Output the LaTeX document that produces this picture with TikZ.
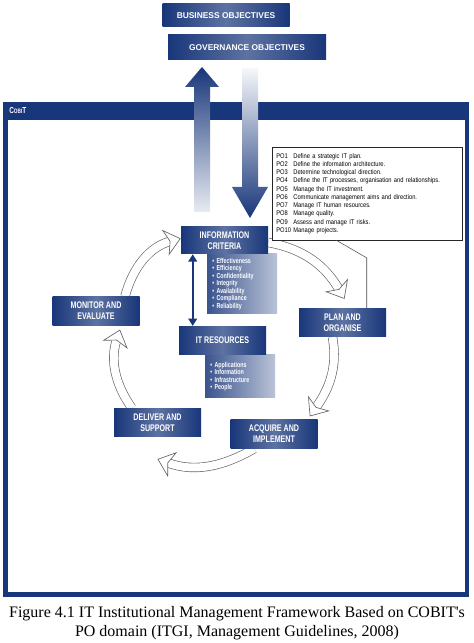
\documentclass[tikz,border=0pt]{standalone}
\usepackage{fontspec}
\setmainfont{Liberation Serif}
\newfontfamily\boxfont[FakeStretch=0.74]{Liberation Sans}
\newfontfamily\pofont[FakeStretch=0.85]{Liberation Sans}
\newfontfamily\topfont{Liberation Sans}
\usetikzlibrary{arrows.meta,calc,backgrounds}
\definecolor{cobblue}{RGB}{24,54,122}
\begin{document}
\begin{tikzpicture}[x=0.75pt,y=0.75pt,
  bluebox/.style={rectangle, inner sep=0pt, left color=cobblue, right color=cobblue, middle color=cobblue!70!white, text=white, align=center},
  cyclebox/.style={bluebox, minimum width=65.25pt, minimum height=21.5pt, font=\boxfont\bfseries\fontsize{7.2}{8.2}\selectfont},
  topbox/.style={bluebox, font=\topfont\bfseries\fontsize{6.3}{7}\selectfont},
  listbox/.style={rectangle, inner xsep=4pt, inner ysep=0pt, left color=cobblue!85!white, right color=cobblue!30!white, text=white, align=left, font=\boxfont\bfseries\fontsize{5.4}{5.6}\selectfont},
  cyc/.style={draw=black!60, line width=0.5pt, double=white, double distance=6pt, -{Stealth[fill=white, width=20pt, length=12pt, inset=3.5pt, line width=0.5pt]}},
  pobox/.style={draw=black!85, line width=0.6pt, fill=white, inner sep=3pt, align=left, font=\pofont\fontsize{5.1}{6.2}\selectfont},
]
\useasboundingbox (0,0) rectangle (474,643);

% top boxes
\node[topbox, minimum width=95.25pt, minimum height=17.25pt] (business) at (226,627.5) {BUSINESS OBJECTIVES};
\node[topbox, minimum width=118.5pt, minimum height=18.75pt] (governance) at (247,595.5) {GOVERNANCE OBJECTIVES};

% COBIT label
\node[anchor=west, text=white, inner sep=0pt, font=\boxfont\bfseries\fontsize{6.5}{7}\selectfont] (cobitlbl) at (9,532) {C{\fontsize{4.8}{5}\selectfont OBI}T};

% PO box
\node[pobox, minimum width=142.5pt, minimum height=69.75pt, text width=136pt] (po) at (367,449.5) {%
\makebox[12.75pt][l]{PO1}Define a strategic IT plan.\\
\makebox[12.75pt][l]{PO2}Define the information architecture.\\
\makebox[12.75pt][l]{PO3}Determine technological direction.\\
\makebox[12.75pt][l]{PO4}Define the IT processes, organisation and relationships.\\
\makebox[12.75pt][l]{PO5}Manage the IT investment.\\
\makebox[12.75pt][l]{PO6}Communicate management aims and direction.\\
\makebox[12.75pt][l]{PO7}Manage IT human resources.\\
\makebox[12.75pt][l]{PO8}Manage quality.\\
\makebox[12.75pt][l]{PO9}Assess and manage IT risks.\\
PO10 Manage projects.};

% list boxes
\node[listbox, minimum width=52.5pt, minimum height=45pt, text width=44.5pt] (crit) at (242,359) {%
\textbullet\ Effectiveness\\
\textbullet\ Efficiency\\
\textbullet\ Confidentiality\\
\textbullet\ Integrity\\
\textbullet\ Availability\\
\textbullet\ Compliance\\
\textbullet\ Reliability};
\node[listbox, minimum width=52.5pt, minimum height=32.25pt, text width=44.5pt] (reslist) at (240,266.5) {%
\textbullet\ Applications\\
\textbullet\ Information\\
\textbullet\ Infrastructure\\
\textbullet\ People\\[2pt]};

% cycle boxes
\node[cyclebox, minimum height=20.25pt] (info) at (224.5,402.5) {INFORMATION\\CRITERIA};
\node[cyclebox] (monitor) at (96,332) {MONITOR AND\\EVALUATE};
\node[cyclebox] (plan) at (342.5,320.5) {PLAN AND\\ORGANISE};
\node[cyclebox] (itres) at (222.5,302.5) {IT RESOURCES};
\node[cyclebox] (deliver) at (157.5,220.5) {DELIVER AND\\SUPPORT};
\node[cyclebox] (acquire) at (274,209) {ACQUIRE AND\\IMPLEMENT};

% caption
\node[font=\fontsize{12}{14.3}\selectfont, align=center, inner sep=0pt] (caption) at (237,19.5) {Figure 4.1 IT Institutional Management Framework Based on COBIT\textquotesingle s\\PO domain (ITGI, Management Guidelines, 2008)};

% double arrow info <-> resources
\draw[cobblue, line width=1.5pt, {Triangle[width=6.5pt,length=5.5pt]}-{Triangle[width=6.5pt,length=5.5pt]}]
  ($(info.south west)+(12,0)$) -- ($(itres.north west)+(14,0)$);

% PO connector
\draw[black!70, line width=0.4pt] ($(po.south west)+(65,0)$) -- ($(plan.north west)+(68,50)$) -- ($(plan.north west)+(68,0)$);

\begin{scope}[on background layer]
  % COBIT frame
  \fill[cobblue] (3,46) rectangle (469,541);
  \fill[white] (8,51) rectangle (465,523);
  % big arrows
  \shade[top color=cobblue, bottom color=cobblue!10!white]
    (194,431) -- (194,556) -- (185,556) -- (202,576) -- (219,556) -- (210,556) -- (210,431) -- cycle;
  \shade[top color=cobblue!4!white, bottom color=cobblue]
    (242,575) -- (242,456) -- (232,456) -- (250,425) -- (268,456) -- (258,456) -- (258,575) -- cycle;
  % cycle arrows
  \draw[cyc] ($(info.east)+(0,-2)$) to[out=-10, in=120] ($(plan.north)+(2,9)$);
  \draw[cyc] ($(plan.south)+(-10,0)$) to[out=-80, in=55] ($(acquire.north east)+(-8,3)$);
  \draw[cyc] ($(acquire.south west)+(24,0)$) to[out=-150, in=-20] ($(deliver.south)+(0,-22)$);
  \draw[cyc] ($(deliver.north west)+(18,0)$) to[out=125, in=-108] ($(monitor.south)+(24,-4)$);
  \draw[cyc] ($(monitor.north)+(29,0)$) to[out=75, in=195] ($(info.west)+(0,2)$);
\end{scope}
\end{tikzpicture}
\end{document}
